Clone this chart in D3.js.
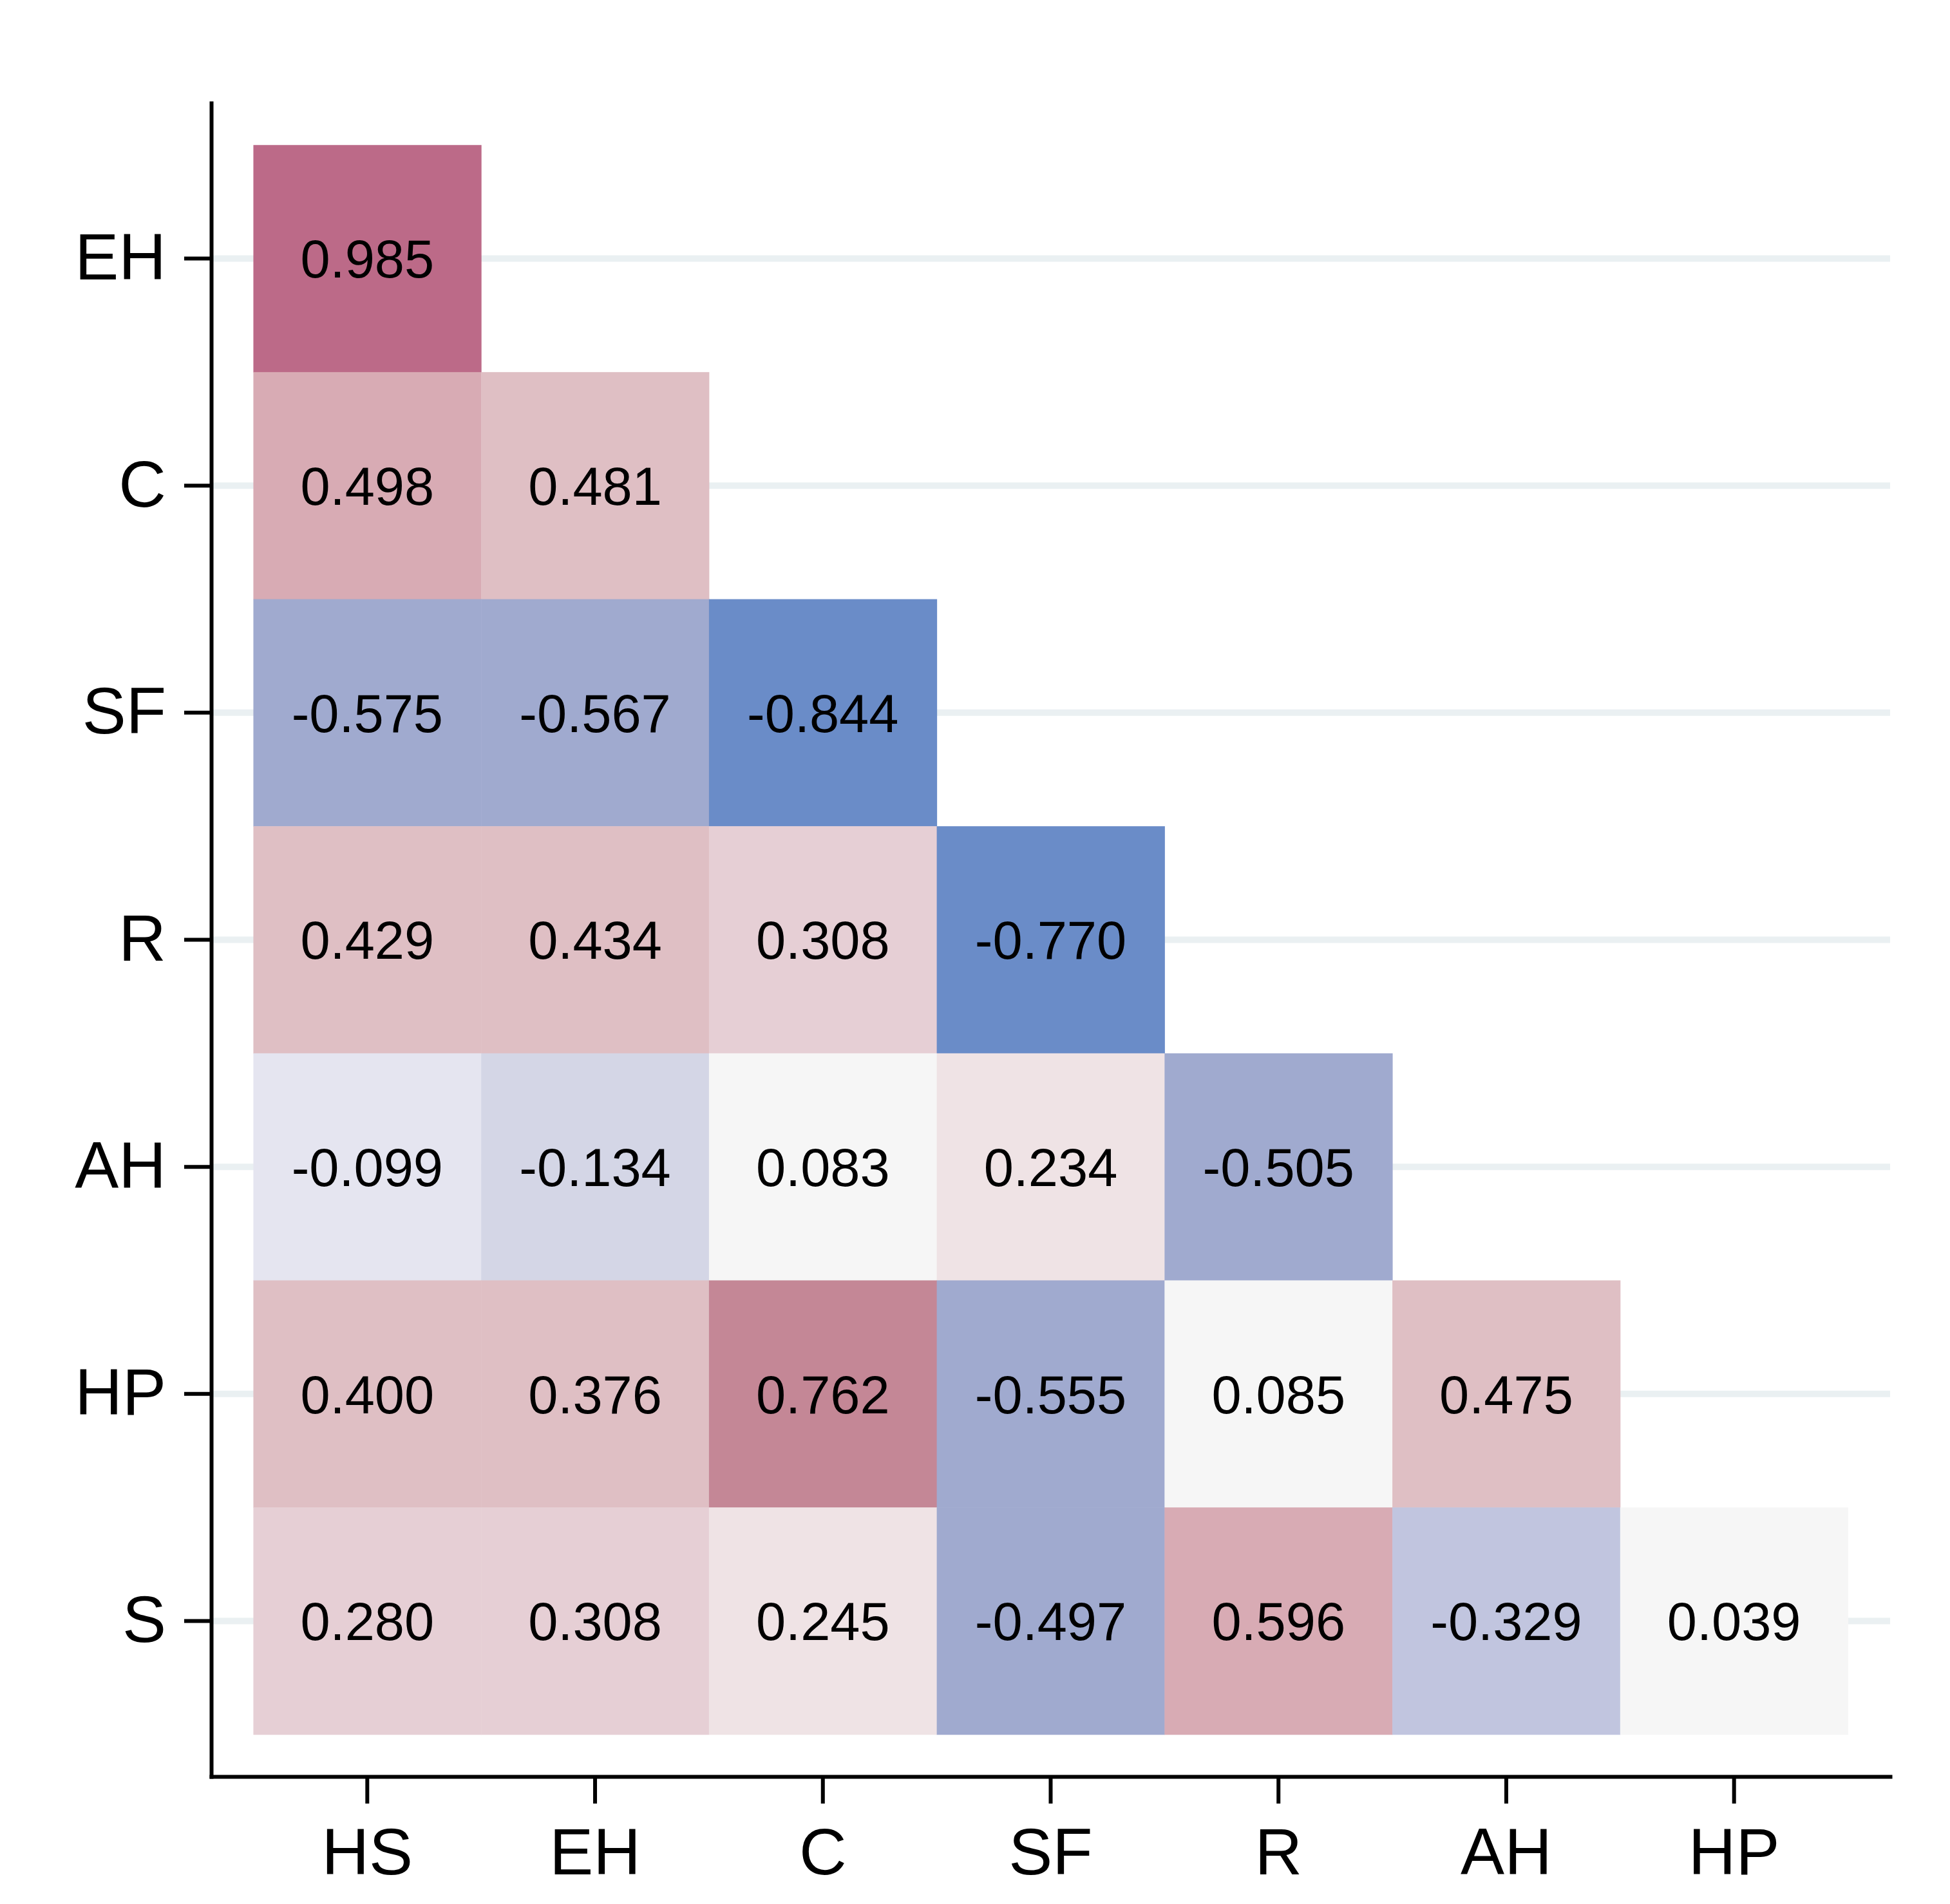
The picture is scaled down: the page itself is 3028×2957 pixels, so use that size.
<!DOCTYPE html>
<html>
<head>
    <meta charset="utf-8">
    <title>correlation heatmap</title>
    <style>
        body { margin: 0; background: #fff; }
    </style>
</head>

<body>
<script src="https://d3js.org/d3.v7.min.js"></script>

<script>

    var width = 3028,
        height = 2957;

    // columns (x) and rows (y, top to bottom)
    var colVars = ['HS', 'EH', 'C', 'SF', 'R', 'AH', 'HP'];
    var rowVars = ['EH', 'C', 'SF', 'R', 'AH', 'HP', 'S'];

    // lower triangle, one array per row
    var rowEH = [0.985];
    var rowC = [0.498, 0.481];
    var rowSF = [-0.575, -0.567, -0.844];
    var rowR = [0.429, 0.434, 0.308, -0.770];
    var rowAH = [-0.099, -0.134, 0.083, 0.234, -0.505];
    var rowHP = [0.400, 0.376, 0.762, -0.555, 0.085, 0.475];
    var rowS = [0.280, 0.308, 0.245, -0.497, 0.596, -0.329, 0.039];

    var rows = [rowEH, rowC, rowSF, rowR, rowAH, rowHP, rowS];

    var cells = [];
    rows.forEach(function (vals, i) {
        vals.forEach(function (v, j) {
            cells.push({ row: rowVars[i], col: colVars[j], value: v });
        });
    });

    // binned diverging palette
    var color = d3.scaleThreshold()
        .domain([-0.7, -0.4, -0.2, -0.11, 0, 0.2, 0.26, 0.35, 0.49, 0.7, 0.9])
        .range(['#6a8cc8', '#a0aacf', '#c1c5df', '#d4d6e6', '#e5e5f0', '#f6f6f6',
                '#efe3e5', '#e6cfd5', '#dfbfc4', '#d8abb4', '#c48796', '#bc6a88']);

    var x = d3.scaleBand()
        .domain(colVars)
        .range([328, 2935])
        .paddingInner(0)
        .paddingOuter(0.185);

    var y = d3.scaleBand()
        .domain(rowVars)
        .range([160, 2759])
        .paddingInner(0)
        .paddingOuter(0.185);

    var svg = d3.select('body').append('svg')
        .attr('width', width)
        .attr('height', height)
        .style('font-family', '"Liberation Sans", Arial, sans-serif');

    // horizontal grid lines at row centres
    svg.append('g')
        .selectAll('line')
        .data(rowVars)
        .enter().append('line')
        .attr('x1', 328)
        .attr('x2', 2935)
        .attr('y1', function (d) { return y(d) + y.bandwidth() / 2; })
        .attr('y2', function (d) { return y(d) + y.bandwidth() / 2; })
        .attr('stroke', '#eaf0f2')
        .attr('stroke-width', 10);

    svg.append('g')
        .selectAll('rect')
        .data(cells)
        .enter().append('rect')
        .attr('x', function (d) { return x(d.col); })
        .attr('y', function (d) { return y(d.row); })
        .attr('width', x.bandwidth() + 0.5)
        .attr('height', y.bandwidth() + 0.5)
        .attr('fill', function (d) { return color(d.value); });

    svg.append('g')
        .selectAll('text')
        .data(cells)
        .enter().append('text')
        .attr('x', function (d) { return x(d.col) + x.bandwidth() / 2; })
        .attr('y', function (d) { return y(d.row) + y.bandwidth() / 2; })
        .attr('text-anchor', 'middle')
        .attr('dy', '0.36em')
        .attr('font-size', 83)
        .attr('fill', '#000')
        .text(function (d) { return d.value.toFixed(3); });

    var yAxis = svg.append('g')
        .attr('transform', 'translate(328,0)')
        .call(d3.axisLeft(y).tickSize(42).tickSizeOuter(0).tickPadding(28));

    var xAxis = svg.append('g')
        .attr('transform', 'translate(0,2759)')
        .call(d3.axisBottom(x).tickSize(42).tickSizeOuter(0).tickPadding(38));

    [yAxis, xAxis].forEach(function (g) {
        g.select('.domain').attr('stroke', '#000').attr('stroke-width', 6)
            .attr('stroke-linecap', 'square');
        g.selectAll('.tick line').attr('stroke', '#000').attr('stroke-width', 6);
        g.selectAll('.tick text')
            .attr('fill', '#000')
            .attr('font-size', 102)
            .attr('font-family', '"Liberation Sans", Arial, sans-serif');
    });

</script>
</body>
</html>
